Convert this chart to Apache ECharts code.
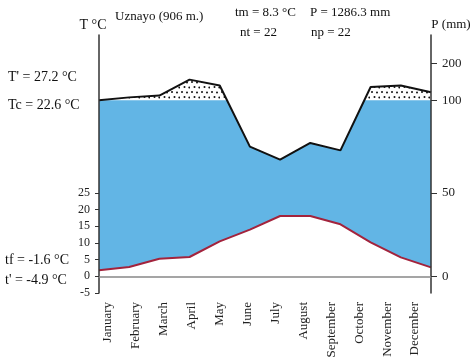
<!DOCTYPE html>
<html><head><meta charset="utf-8">
<script src="https://cdn.jsdelivr.net/npm/echarts@6/dist/echarts.min.js"></script>
<style>html,body{margin:0;padding:0;background:#fff}#c{width:474px;height:363px}</style>
</head><body><div id="c"></div>
<script>
const months = ['January','February','March','April','May','June','July','August','September','October','November','December'];
const temperature = [1.8, 2.8, 5.3, 5.8, 10.5, 14.0, 18.1, 18.1, 15.6, 10.2, 5.7, 2.7];
const precipitation = [100, 108, 113, 156, 140, 75, 68, 77, 73, 136, 140, 122];
const tempTicks = [-5, 0, 5, 10, 15, 20, 25];
const precTicks = [0, 50, 100, 200];
const threshold = 100;

// Walter-Lieth style precipitation scale (compressed above 100 mm)
function pToDisp(p) {
  if (p <= 50) return p / 2;
  if (p <= 100) return 25 + (p - 50) * 0.556;
  return 52.8 + (p - 100) * 0.111;
}
const precDisp = precipitation.map(pToDisp);
const blueDiff = precDisp.map((v, i) => v - temperature[i]);
const thrDisp = months.map(() => pToDisp(threshold));
const precTickDisp = precTicks.map(pToDisp);

// dot pattern
const pc = document.createElement('canvas');
pc.width = 10; pc.height = 10;
const g = pc.getContext('2d');
g.fillStyle = '#fff'; g.fillRect(0, 0, 10, 10);
g.fillStyle = '#111';
[[2,2],[7,2.5],[4.5,7],[9.3,7.5]].forEach(d => { g.beginPath(); g.arc(d[0], d[1], 1.0, 0, Math.PI * 2); g.fill(); });

const FONT = 'Liberation Serif';
const YMIN = -5, YMAX = 72.4;
const chart = echarts.init(document.getElementById('c'), null, {renderer: 'canvas'});
function txt(x, y, s, size, align) {
  return {type: 'text', x: x, y: y, z: 100, style: {text: s, font: size + 'px "' + FONT + '"', fill: '#111', textAlign: align || 'left', textVerticalAlign: 'middle'}};
}
chart.setOption({
  animation: false,
  grid: [
    {left: 99, right: 43, top: 35, bottom: 70},
    {left: 94, width: 335, top: 35, bottom: 70}
  ],
  xAxis: [
    {type: 'category', gridIndex: 0, data: months, boundaryGap: false, z: 10,
     axisLine: {lineStyle: {color: '#888', width: 1.5}}, axisTick: {show: false}, axisLabel: {show: false}},
    {type: 'category', gridIndex: 1, data: months, boundaryGap: true,
     axisLine: {show: false}, axisTick: {show: false},
     axisLabel: {rotate: 90, margin: 9, fontFamily: FONT, fontSize: 13, color: '#222'}}
  ],
  yAxis: [
    {type: 'value', gridIndex: 0, min: YMIN, max: YMAX, position: 'left', z: 10,
     splitLine: {show: false},
     axisLine: {show: true, lineStyle: {color: '#333', width: 1.5}},
     axisTick: {show: true, length: 4, customValues: tempTicks, lineStyle: {color: '#333'}},
     axisLabel: {customValues: tempTicks, margin: 9, fontFamily: FONT, fontSize: 12, color: '#222'}},
    {type: 'value', gridIndex: 0, min: YMIN, max: YMAX, position: 'right', z: 10,
     splitLine: {show: false},
     axisLine: {show: true, lineStyle: {color: '#333', width: 1.5}},
     axisTick: {show: true, length: 6, customValues: precTickDisp, lineStyle: {color: '#333'}},
     axisLabel: {customValues: precTickDisp, margin: 11, fontFamily: FONT, fontSize: 13, color: '#222',
       formatter: v => { let best = 0; precTickDisp.forEach((d, i) => { if (Math.abs(d - v) < Math.abs(precTickDisp[best] - v)) best = i; }); return String(precTicks[best]); }}},
    {type: 'value', gridIndex: 1, show: false}
  ],
  series: [
    {type: 'line', name: 'tbase', data: temperature, stack: 'blue', symbol: 'none', silent: true, z: 2,
     lineStyle: {width: 0, opacity: 0}},
    {type: 'line', name: 'humid', data: blueDiff, stack: 'blue', symbol: 'none', silent: true, z: 2,
     lineStyle: {width: 0, opacity: 0}, areaStyle: {color: '#62b5e5', opacity: 1}},
    {type: 'line', name: 'dots', data: thrDisp, symbol: 'none', silent: true, z: 3,
     lineStyle: {width: 0, opacity: 0}, areaStyle: {origin: 'end', color: {image: pc, repeat: 'repeat'}, opacity: 1}},
    {type: 'line', name: 'precip', data: precDisp, symbol: 'none', silent: true, z: 4,
     lineStyle: {color: '#111', width: 2}, areaStyle: {origin: 'end', color: '#fff', opacity: 1}},
    {type: 'line', name: 'temp', data: temperature, symbol: 'none', silent: true, z: 5,
     lineStyle: {color: '#a3233c', width: 2}}
  ],
  graphic: [
    txt(93, 25, 'T °C', 14, 'center'),
    txt(115, 17, 'Uznayo (906 m.)', 13),
    txt(235, 13, 'tm = 8.3 °C', 13),
    txt(310, 13, 'P = 1286.3 mm', 13),
    txt(240, 33, 'nt = 22', 13),
    txt(311, 33, 'np = 22', 13),
    txt(451, 25, 'P (mm)', 13, 'center'),
    txt(8, 77, "T' = 27.2 °C", 14),
    txt(8, 105, 'Tc = 22.6 °C', 14),
    txt(5, 260, 'tf = -1.6 °C', 14),
    txt(5, 280, "t' = -4.9 °C", 14)
  ]
});
</script></body></html>
